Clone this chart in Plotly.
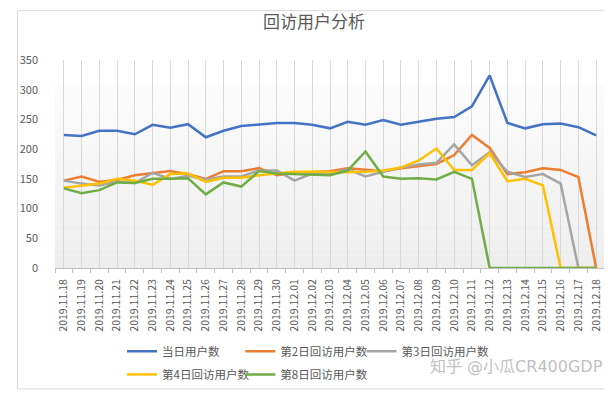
import plotly.graph_objects as go

dates = ["2019.11.18", "2019.11.19", "2019.11.20", "2019.11.21", "2019.11.22", "2019.11.23",
         "2019.11.24", "2019.11.25", "2019.11.26", "2019.11.27", "2019.11.28", "2019.11.29",
         "2019.11.30", "2019.12.01", "2019.12.02", "2019.12.03", "2019.12.04", "2019.12.05",
         "2019.12.06", "2019.12.07", "2019.12.08", "2019.12.09", "2019.12.10", "2019.12.11",
         "2019.12.12", "2019.12.13", "2019.12.14", "2019.12.15", "2019.12.16", "2019.12.17",
         "2019.12.18"]

day0 = [224, 222, 231, 231, 225, 241, 236, 242, 220, 231, 239, 242, 244, 244, 241, 235,
        246, 241, 249, 241, 246, 251, 254, 272, 324, 244, 235, 242, 243, 237, 223]
day2 = [147, 154, 145, 148, 156, 159, 163, 158, 150, 163, 163, 168, 156, 160, 162, 163,
        168, 165, 163, 168, 171, 175, 190, 224, 202, 158, 161, 168, 165, 153, 0]
day3 = [147, 142, 139, 145, 143, 160, 150, 155, 149, 154, 154, 164, 164, 147, 159, 159,
        166, 154, 162, 169, 174, 177, 208, 173, 195, 162, 153, 158, 142, 0, 0]
day4 = [135, 139, 142, 150, 147, 140, 158, 159, 145, 152, 152, 156, 159, 162, 162, 161,
        161, 162, 164, 169, 181, 201, 165, 165, 193, 146, 150, 139, 0, 0, 0]
day8 = [134, 126, 131, 144, 143, 150, 150, 151, 124, 144, 137, 163, 159, 158, 157, 156,
        164, 196, 154, 150, 151, 149, 162, 150, 0, 0, 0, 0, 0, 0, 0]

series_names = ["当日用户数", "第2日回访用户数", "第3日回访用户数", "第4日回访用户数", "第8日回访用户数"]
series_values = [day0, day2, day3, day4, day8]
series_colors = ["#4472C4", "#ED7D31", "#A5A5A5", "#FFC000", "#70AD47"]

y_ticks = [0, 50, 100, 150, 200, 250, 300, 350]

FONT = "Noto Sans CJK SC, Microsoft YaHei, sans-serif"
GRAY = "#595959"

W, H = 612, 393
ml, mr, mt, mb = 39, 15, 52, 126
pw, ph = W - ml - mr, H - mt - mb

# legend entry placement (pixels of the line start, row centre)
legend_keys = ["legend", "legend2", "legend3", "legend4", "legend5"]
legend_px = [(126, 353), (246, 353), (369, 353), (126, 377), (246, 377)]
LEG_OFFSET = 19

idx = list(range(len(dates)))

fig = go.Figure()
for name, vals, col, lg in zip(series_names, series_values, series_colors, legend_keys):
    fig.add_trace(go.Scatter(
        x=idx, y=vals, name=name, mode="lines",
        line=dict(color=col, width=2.5),
        legend=lg, showlegend=True,
    ))

shapes = []
nb = 30
gtop = 0.88
for i in range(nb):
    y0 = gtop * i / nb
    y1 = gtop * (i + 1) / nb
    t = 1 - (i + 0.5) / nb
    c = int(round(252 - 15 * t))
    shapes.append(dict(type="rect", xref="paper", yref="paper", x0=0, x1=1, y0=y0, y1=y1,
                       fillcolor=f"rgb({c},{c},{c})", line=dict(width=0), layer="below"))
shapes.append(dict(type="rect", xref="paper", yref="paper",
                   x0=(-ml + 1) / pw, x1=1 + (mr - 1) / pw,
                   y0=(-mb + 1) / ph, y1=1 + (mt - 1) / ph,
                   line=dict(color="#d9d9d9", width=1), fillcolor="rgba(0,0,0,0)", layer="below"))

legends = {}
for key, (px, py) in zip(legend_keys, legend_px):
    legends[key] = dict(orientation="h",
                        x=(px - LEG_OFFSET - ml) / pw, xanchor="left",
                        y=-(py - (H - mb)) / ph, yanchor="middle",
                        font=dict(size=11.5, color=GRAY, family=FONT),
                        bgcolor="rgba(0,0,0,0)", itemwidth=30)

fig.update_layout(
    width=W, height=H,
    showlegend=True,
    margin=dict(l=ml, r=mr, t=mt, b=mb),
    paper_bgcolor="white", plot_bgcolor="white",
    font=dict(family=FONT, color=GRAY),
    title=dict(text="回访用户分析", x=0.5, xanchor="center", xref="container",
               y=1 - 14 / H, yanchor="middle", yref="container",
               font=dict(size=17, color=GRAY, family=FONT)),
    xaxis=dict(
        range=[-0.5, len(dates) - 0.5],
        tickmode="array", tickvals=idx, ticktext=dates, tickangle=-90,
        tickfont=dict(size=10.5, color=GRAY, family=FONT),
        showgrid=True, gridcolor="#d9d9d9", gridwidth=1,
        ticks="", showline=True, linecolor="#bfbfbf", linewidth=1,
        zeroline=False, ticklabelstandoff=6,
        minor=dict(ticks="outside", ticklen=4, tickcolor="#bfbfbf", tick0=-0.5, dtick=1,
                   showgrid=False),
    ),
    yaxis=dict(
        range=[0, 350], tickmode="array", tickvals=y_ticks,
        tickfont=dict(size=11, color=GRAY, family=FONT),
        showgrid=False, zeroline=False, showline=False, ticks="",
        ticklabelstandoff=16,
    ),
    shapes=shapes,
    annotations=[dict(text="知乎 @小瓜CR400GDP", xref="paper", yref="paper",
                      x=1 + (mr - 15) / pw, xanchor="right", y=-(369 - (H - mb)) / ph,
                      yanchor="middle", showarrow=False,
                      font=dict(size=16, color="rgba(170,170,170,0.75)",
                                family="DejaVu Sans, Noto Sans CJK SC, sans-serif"))],
    **legends,
)

fig.write_html("out.html")
